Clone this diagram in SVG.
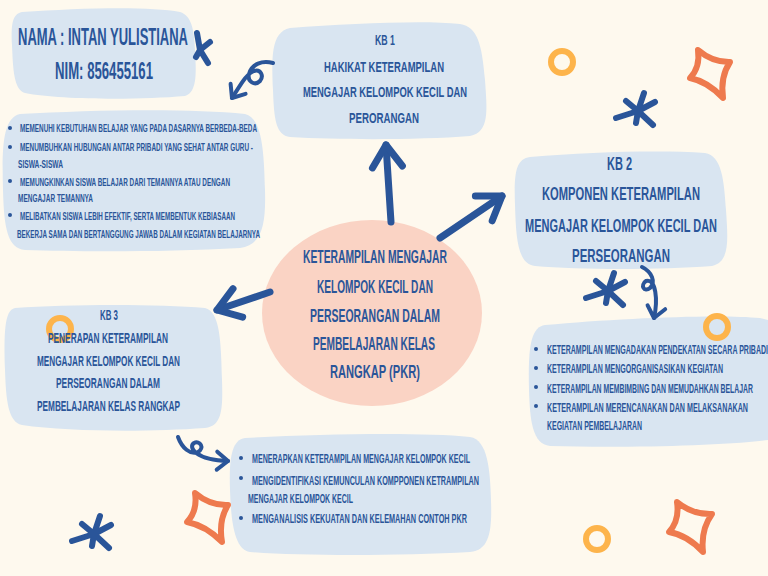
<svg xmlns="http://www.w3.org/2000/svg" xmlns:xlink="http://www.w3.org/1999/xlink" width="768" height="576" viewBox="0 0 768 576">
<defs>
<style>
.box{fill:#D9E5F1}
.t{font-family:"Liberation Sans",Arial,sans-serif;font-weight:bold;fill:#2A5599}
.bul{fill:#2A5599}
.con{fill:none;stroke:#2A5599;stroke-linecap:round;stroke-linejoin:round}
.thick{stroke-width:7}
.thin{stroke-width:4}
.spark{fill:none;stroke:#EE7A4E;stroke-width:6;stroke-linejoin:round}
.ring{fill:none;stroke:#FDB44B;stroke-width:6}
.ast{fill:none;stroke:#2A5599;stroke-width:6;stroke-linecap:round}
</style>
<marker id="bighead" viewBox="-30 -20 40 40" markerWidth="40" markerHeight="40" refX="0" refY="0" orient="auto" markerUnits="userSpaceOnUse">
<path d="M-22,-15 L0,0 L-22,15" fill="none" stroke="#2A5599" stroke-width="7" stroke-linecap="round" stroke-linejoin="round"/>
</marker>
<marker id="smallhead" viewBox="-20 -14 28 28" markerWidth="28" markerHeight="28" refX="0" refY="0" orient="auto" markerUnits="userSpaceOnUse">
<path d="M-11,-9 L0,0 L-11,9" fill="none" stroke="#2A5599" stroke-width="4" stroke-linecap="round" stroke-linejoin="round"/>
</marker>
<path id="astshape" d="M0,0 L6,-18 M0,0 L17,-9 M0,0 L15,14 M0,0 L-2,12 M0,0 L-22,7 M0,0 L-12,-10"/>
</defs>
<rect x="0" y="0" width="768" height="576" fill="#FEF9EE"/>

<g id="nama">
<path class="box" d="M22,12 C80,8 150,6 180,12 C192,16 194,30 195,50 C196,70 198,92 185,96 C140,100 60,100 25,93 C14,90 13,70 12,45 C11,25 12,14 22,12 Z"/>
<text class="t" x="18" y="45" font-size="23" textLength="170" lengthAdjust="spacingAndGlyphs">NAMA : INTAN YULISTIANA</text>
<text class="t" x="55" y="79" font-size="23" textLength="98" lengthAdjust="spacingAndGlyphs">NIM: 856455161</text>
</g>

<g id="kb1">
<path class="box" d="M290,28 C350,24 420,20 460,24 C478,27 482,45 485,80 C487,110 490,132 470,136 C420,140 340,140 290,137 C276,135 274,120 273,90 C272,60 270,32 290,28 Z"/>
<text class="t" x="375" y="45" font-size="14" textLength="20" lengthAdjust="spacingAndGlyphs">KB 1</text>
<text class="t" x="324" y="72" font-size="14" textLength="120" lengthAdjust="spacingAndGlyphs">HAKIKAT KETERAMPILAN</text>
<text class="t" x="303" y="97" font-size="14" textLength="164" lengthAdjust="spacingAndGlyphs">MENGAJAR KELOMPOK KECIL DAN</text>
<text class="t" x="349" y="123" font-size="14" textLength="70" lengthAdjust="spacingAndGlyphs">PERORANGAN</text>
</g>

<g id="list1">
<path class="box" d="M20,114 C90,110 190,108 245,114 C262,118 264,150 265,190 C266,225 262,245 240,248 C170,252 80,252 25,250 C8,248 4,230 3,190 C2,150 2,118 20,114 Z"/>
<circle class="bul" cx="10" cy="128" r="2"/>
<circle class="bul" cx="10" cy="147" r="2"/>
<circle class="bul" cx="10" cy="181" r="2"/>
<circle class="bul" cx="10" cy="215" r="2"/>
<text class="t" x="20" y="132" font-size="11" textLength="237" lengthAdjust="spacingAndGlyphs">MEMENUHI KEBUTUHAN BELAJAR YANG PADA DASARNYA BERBEDA-BEDA</text>
<text class="t" x="20" y="151" font-size="11" textLength="233" lengthAdjust="spacingAndGlyphs">MENUMBUHKAN HUBUNGAN ANTAR PRIBADI YANG SEHAT ANTAR GURU -</text>
<text class="t" x="18" y="168" font-size="11" textLength="45" lengthAdjust="spacingAndGlyphs">SISWA-SISWA</text>
<text class="t" x="20" y="186" font-size="11" textLength="210" lengthAdjust="spacingAndGlyphs">MEMUNGKINKAN SISWA BELAJAR DARI TEMANNYA ATAU DENGAN</text>
<text class="t" x="18" y="202" font-size="11" textLength="75" lengthAdjust="spacingAndGlyphs">MENGAJAR TEMANNYA</text>
<text class="t" x="20" y="220" font-size="11" textLength="215" lengthAdjust="spacingAndGlyphs">MELIBATKAN SISWA LEBIH EFEKTIF, SERTA MEMBENTUK KEBIASAAN</text>
<text class="t" x="17" y="238" font-size="11" textLength="243" lengthAdjust="spacingAndGlyphs">BEKERJA SAMA DAN BERTANGGUNG JAWAB DALAM KEGIATAN BELAJARNYA</text>
</g>

<g id="kb2">
<path class="box" d="M530,157 C590,152 660,150 705,153 C722,156 724,180 726,210 C728,240 730,262 712,266 C660,270 580,270 535,266 C518,264 516,240 515,205 C514,175 515,159 530,157 Z"/>
<text class="t" x="607" y="170" font-size="19" textLength="25" lengthAdjust="spacingAndGlyphs">KB 2</text>
<text class="t" x="542" y="200" font-size="19" textLength="158" lengthAdjust="spacingAndGlyphs">KOMPONEN KETERAMPILAN</text>
<text class="t" x="525" y="232" font-size="19" textLength="192" lengthAdjust="spacingAndGlyphs">MENGAJAR KELOMPOK KECIL DAN</text>
<text class="t" x="572" y="262" font-size="19" textLength="98" lengthAdjust="spacingAndGlyphs">PERSEORANGAN</text>
</g>

<g id="list2">
<path class="box" d="M545,325 C620,318 720,314 760,318 L768,320 L768,440 C720,446 620,448 550,446 C532,444 530,420 529,390 C528,350 530,327 545,325 Z"/>
<circle class="bul" cx="536" cy="349" r="2"/>
<circle class="bul" cx="536" cy="368" r="2"/>
<circle class="bul" cx="536" cy="387" r="2"/>
<circle class="bul" cx="536" cy="406" r="2"/>
<text class="t" x="547" y="354" font-size="13" textLength="221" lengthAdjust="spacingAndGlyphs">KETERAMPILAN MENGADAKAN PENDEKATAN SECARA PRIBADI</text>
<text class="t" x="547" y="373" font-size="13" textLength="176" lengthAdjust="spacingAndGlyphs">KETERAMPILAN MENGORGANISASIKAN KEGIATAN</text>
<text class="t" x="547" y="393" font-size="13" textLength="206" lengthAdjust="spacingAndGlyphs">KETERAMPILAN MEMBIMBING DAN MEMUDAHKAN BELAJAR</text>
<text class="t" x="547" y="412" font-size="13" textLength="201" lengthAdjust="spacingAndGlyphs">KETERAMPILAN MERENCANAKAN DAN MELAKSANAKAN</text>
<text class="t" x="547" y="430" font-size="13" textLength="95" lengthAdjust="spacingAndGlyphs">KEGIATAN PEMBELAJARAN</text>
</g>

<g id="center">
<ellipse cx="372" cy="313" rx="110" ry="93" fill="#FAD3C4"/>
<text class="t" x="303" y="263" font-size="17.5" textLength="144" lengthAdjust="spacingAndGlyphs">KETERAMPILAN MENGAJAR</text>
<text class="t" x="317" y="293" font-size="17.5" textLength="116" lengthAdjust="spacingAndGlyphs">KELOMPOK KECIL DAN</text>
<text class="t" x="310" y="322" font-size="17.5" textLength="130" lengthAdjust="spacingAndGlyphs">PERSEORANGAN DALAM</text>
<text class="t" x="313" y="350" font-size="17.5" textLength="122" lengthAdjust="spacingAndGlyphs">PEMBELAJARAN KELAS</text>
<text class="t" x="330" y="378" font-size="17.5" textLength="90" lengthAdjust="spacingAndGlyphs">RANGKAP (PKR)</text>
</g>

<g id="kb3">
<path class="box" d="M15,308 C70,304 160,304 205,308 C220,312 221,340 222,380 C223,410 222,426 205,428 C150,432 70,432 22,425 C8,422 6,400 5,370 C4,335 4,310 15,308 Z"/>
<circle class="ring" cx="60" cy="329" r="11"/>
<text class="t" x="100" y="320" font-size="14.5" textLength="18" lengthAdjust="spacingAndGlyphs">KB 3</text>
<text class="t" x="48" y="343" font-size="14.5" textLength="120" lengthAdjust="spacingAndGlyphs">PENERAPAN KETERAMPILAN</text>
<text class="t" x="37" y="366" font-size="14.5" textLength="143" lengthAdjust="spacingAndGlyphs">MENGAJAR KELOMPOK KECIL DAN</text>
<text class="t" x="56" y="388" font-size="14.5" textLength="104" lengthAdjust="spacingAndGlyphs">PERSEORANGAN DALAM</text>
<text class="t" x="37" y="411" font-size="14.5" textLength="143" lengthAdjust="spacingAndGlyphs">PEMBELAJARAN KELAS RANGKAP</text>
</g>

<g id="list3">
<path class="box" d="M245,438 C320,434 420,432 470,437 C488,440 490,470 491,500 C492,530 490,550 470,552 C400,556 300,556 250,552 C234,550 231,520 230,490 C229,460 231,440 245,438 Z"/>
<circle class="bul" cx="241" cy="458" r="2"/>
<circle class="bul" cx="241" cy="478" r="2"/>
<circle class="bul" cx="241" cy="518" r="2"/>
<text class="t" x="252" y="463" font-size="13" textLength="218" lengthAdjust="spacingAndGlyphs">MENERAPKAN KETERAMPILAN MENGAJAR KELOMPOK KECIL</text>
<text class="t" x="252" y="485" font-size="13" textLength="227" lengthAdjust="spacingAndGlyphs">MENGIDENTIFIKASI KEMUNCULAN KOMPPONEN KETRAMPILAN</text>
<text class="t" x="248" y="503" font-size="13" textLength="105" lengthAdjust="spacingAndGlyphs">MENGAJAR KELOMPOK KECIL</text>
<text class="t" x="252" y="523" font-size="13" textLength="215" lengthAdjust="spacingAndGlyphs">MENGANALISIS KEKUATAN DAN KELEMAHAN CONTOH PKR</text>
</g>

<g id="connectors">
<path class="con thick" d="M391,222 L386,145" marker-end="url(#bighead)"/>
<path class="con thick" d="M440,238 L502,196" marker-end="url(#bighead)"/>
<path class="con thick" d="M270,292 L217,310" marker-end="url(#bighead)"/>
<path class="con thin" d="M273,63 C262,60 252,64 249,74 C247,82 255,86 260,81 C264,76 261,69 254,71 C246,74 240,86 232,98" marker-end="url(#smallhead)"/>
<path class="con thin" d="M642,267 C652,272 656,282 650,288 C644,293 640,285 646,281 C656,278 658,300 654,318" marker-end="url(#smallhead)"/>
<path class="con thin" d="M178,437 C182,448 190,455 198,452 C205,448 200,440 194,443 C188,447 195,460 228,461" marker-end="url(#smallhead)"/>
</g>

<g id="decorations">
<path class="ast" d="M200,50 L197,33 M200,50 L210,42 M200,50 L208,63 M200,50 L196,57"/>
<use xlink:href="#astshape" class="ast" transform="translate(638,111)"/>
<use xlink:href="#astshape" class="ast" transform="translate(608,291)"/>
<use xlink:href="#astshape" class="ast" transform="translate(94,534)"/>
<circle class="ring" cx="562" cy="62" r="11"/>
<circle class="ring" cx="717" cy="327" r="11"/>
<circle class="ring" cx="597" cy="539" r="11"/>
<path class="spark" d="M698,50 Q712.4,62.4 730,62 Q720.1,76.8 723,98 Q707.9,81.6 690,78 Q700.4,67.2 698,50 Z"/>
<path class="spark" d="M195,493 Q210.1,505.8 228,505 Q218.2,520.5 222,542 Q205.9,525.6 187,522 Q197.8,510.9 195,493 Z"/>
<path class="spark" d="M677,502 Q692.7,514.8 712,514 Q700.5,529.8 703,552 Q687.6,535.2 669,532 Q679.8,520.2 677,502 Z"/>
</g>
</svg>
